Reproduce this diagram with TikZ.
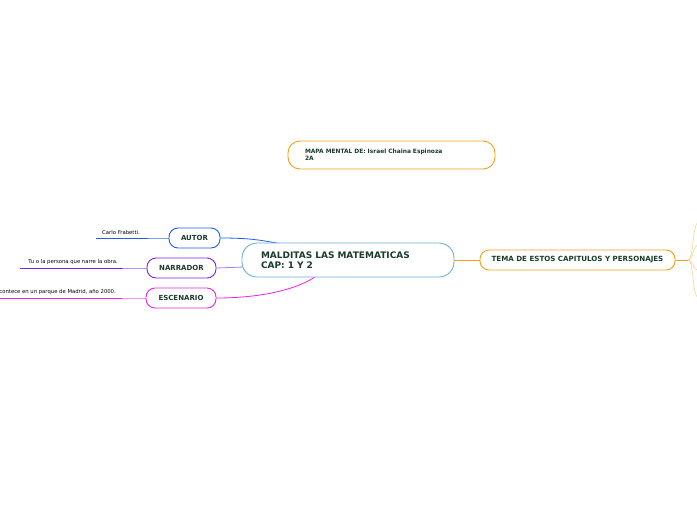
\documentclass[tikz,border=0pt]{standalone}
\usepackage{fontspec}
\setmainfont{DejaVu Sans}
\definecolor{txt}{HTML}{1B3B2C}
\definecolor{mblue}{HTML}{6AAFDF}
\definecolor{aut}{HTML}{1F5FE8}
\definecolor{nar}{HTML}{7A22F0}
\definecolor{esc}{HTML}{EE22E8}
\definecolor{ora}{HTML}{F5A01A}
\tikzset{x=1pt,y=-1pt,
 box/.style={draw,rounded corners=9pt,line width=0.9pt,fill=white,text=txt,font=\bfseries\fontsize{7}{8}\selectfont,inner sep=0pt,minimum height=20pt},
 leaf/.style={font=\fontsize{5.3}{6}\selectfont,text=black,inner sep=1pt,anchor=south east}}
\begin{document}
\begin{tikzpicture}
\clip (0,0) rectangle (697,520);
\fill[white] (0,0) rectangle (697,520);
% connectors
\draw[aut,line width=0.8pt] (220,238) .. controls (250,238) and (260,240) .. (282,244);
\draw[nar!60,line width=0.8pt] (216,268) -- (244,267);
\draw[esc,line width=0.8pt] (216,298) .. controls (260,298) and (295,290) .. (315,277);
\draw[ora,line width=0.8pt] (454,260) -- (480,260);
\draw[ora,line width=0.8pt] (675,260) -- (688,260);
\foreach \yy in {222,245,270,298}
  \draw[ora!45,line width=0.6pt] (688,260) .. controls (694,260) and (692,\yy) .. (699,\yy);
% leaves
\draw[aut!60,line width=0.6pt] (148,238) -- (169,238);
\draw[aut,line width=1pt] (96,238) -- (148,238);
\node[leaf] (l1) at (141,236) {Carlo Frabetti.};
\draw[nar!50,line width=0.6pt] (123,268) -- (147,268);
\draw[nar,line width=1pt] (20,268) -- (123,268);
\node[leaf] (l2) at (119,266) {Tu o la persona que narre la obra.};
\draw[esc!50,line width=0.6pt] (122,298) -- (146,298);
\draw[esc,line width=1pt] (-10,298) -- (122,298);
\node[leaf] (l3) at (117,296) {Acontece en un parque de Madrid, año 2000.};
% nodes
\node[box,draw=mblue,minimum width=212pt,minimum height=34pt,rounded corners=15pt,font=\bfseries\fontsize{9}{10.5}\selectfont,text width=174pt,align=left] (m) at (348,260) {MALDITAS LAS MATEMATICAS\\CAP: 1 Y 2};
\node[box,draw=aut,minimum width=51pt] (a) at (194.5,238) {AUTOR};
\node[box,draw=nar,minimum width=69pt] (n) at (181.5,268) {NARRADOR};
\node[box,draw=esc,minimum width=70pt] (e) at (181,298) {ESCENARIO};
\node[box,draw=ora,minimum width=195pt,font=\bfseries\fontsize{7.1}{8}\selectfont] (t) at (577.5,260) {TEMA DE ESTOS CAPITULOS Y PERSONAJES};
\node[box,draw=ora,minimum width=207pt,minimum height=28pt,rounded corners=12pt,text width=173pt,align=left,font=\bfseries\fontsize{5.9}{7.5}\selectfont] (p) at (391.5,155) {MAPA MENTAL DE: Israel Chaina Espinoza\\2A};
\end{tikzpicture}
\end{document}
